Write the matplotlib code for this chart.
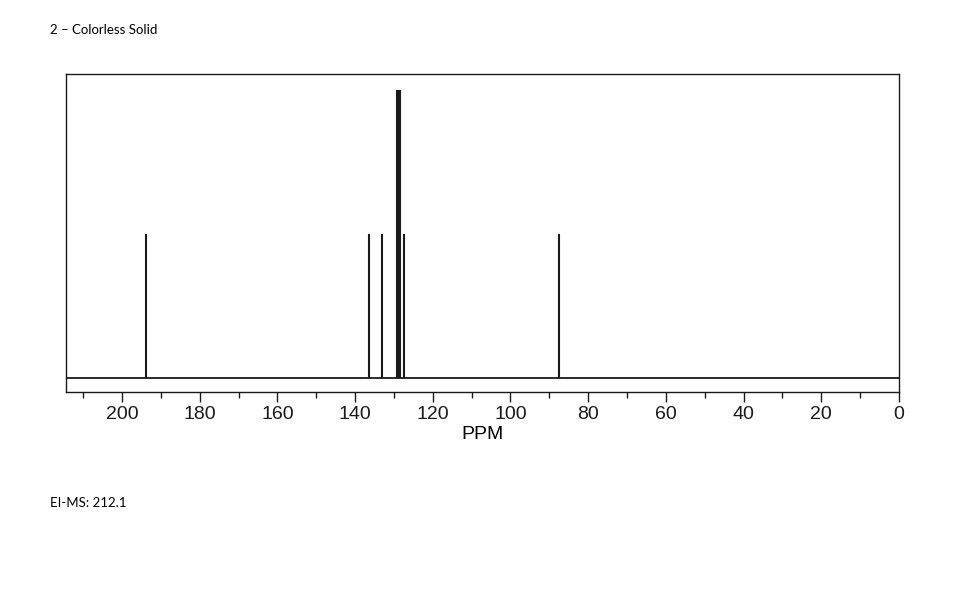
import matplotlib
matplotlib.use("Agg")
import matplotlib.pyplot as plt
from matplotlib.ticker import MultipleLocator

# Data (13C NMR peaks, ppm and relative intensity)
peak_ppm = [193.9, 136.5, 133.0, 129.3, 128.9, 128.5, 127.5, 87.6]
peak_int = [1.0, 1.0, 1.0, 2.0, 2.0, 2.0, 1.0, 1.0]
major_ticks = [200, 180, 160, 140, 120, 100, 80, 60, 40, 20, 0]
title_text = "2 \u2013 Colorless Solid"
footer_text = "EI-MS: 212.1"
xlabel = "PPM"

fig = plt.figure(figsize=(9.62, 6.11), dpi=100)
W, H = 962, 611
left, right, top, bottom = 66, 899, 74, 392
ax = fig.add_axes([left / W, (H - bottom) / H, (right - left) / W, (bottom - top) / H])

ax.vlines(peak_ppm, 0, peak_int, color="#1a1a1a", linewidth=1.5)
ax.axhline(0, color="#1a1a1a", linewidth=1.3)

ax.set_xlim(214.4, 0)
ax.set_ylim(-0.097, 2.111)
ax.set_xticks(major_ticks)
ax.set_xticklabels([str(t) for t in major_ticks], fontsize=14, family="Liberation Sans")
ax.xaxis.set_minor_locator(MultipleLocator(10))
ax.tick_params(axis="x", which="major", direction="out", length=7.5, width=1, pad=2.5, colors="#1a1a1a")
ax.tick_params(axis="x", which="minor", direction="out", length=4.5, width=1, colors="#1a1a1a")
ax.set_yticks([])
ax.set_xlabel(xlabel, fontsize=14, family="Liberation Sans", labelpad=2.5)
for s in ax.spines.values():
    s.set_linewidth(1.0)
    s.set_color("#1a1a1a")

fig.text(50 / W, 1 - 30 / H, title_text, fontsize=9.5, family="Lato", va="center", ha="left")
fig.text(50 / W, 1 - 503 / H, footer_text, fontsize=9.5, family="Lato", va="center", ha="left")

fig.savefig("out.png", dpi=100)
